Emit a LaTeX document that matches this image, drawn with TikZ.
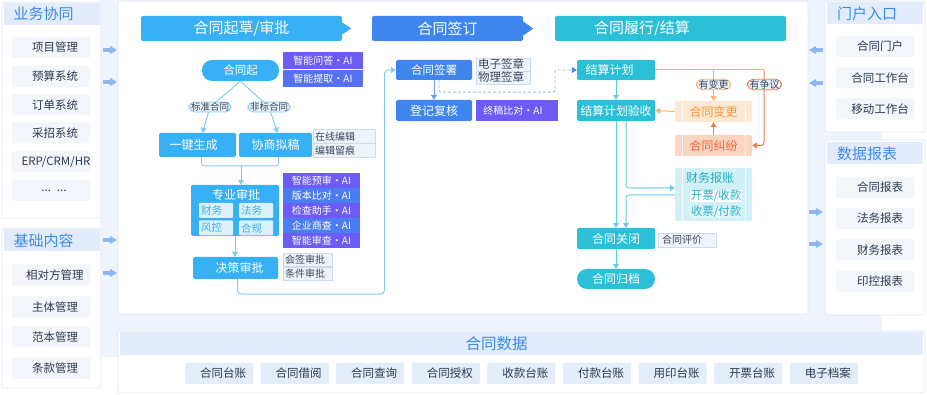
\documentclass[tikz,border=0pt]{standalone}
\usepackage{fontspec}
\setmainfont{Noto Sans CJK SC}
\usetikzlibrary{arrows.meta}
\definecolor{bgblue}{HTML}{EEF3FC}
\definecolor{pborder}{HTML}{DFE7F3}
\definecolor{hdrfill}{HTML}{E2ECFB}
\definecolor{hdrtext}{HTML}{3D8AF0}
\definecolor{itemfill}{HTML}{F3F6FA}
\definecolor{datafill}{HTML}{E4EDF9}
\definecolor{dtext}{HTML}{2C3A52}
\definecolor{tagtext}{HTML}{3A465C}
\definecolor{csky}{HTML}{38B0F5}
\definecolor{cblue}{HTML}{3E86EE}
\definecolor{cteal}{HTML}{2CC0D8}
\definecolor{aipurple}{HTML}{6C5CF5}
\definecolor{aiblue}{HTML}{4B7CF0}
\definecolor{aiindigo}{HTML}{5570F2}
\definecolor{tagfill}{HTML}{EEF4FB}
\definecolor{tagdraw}{HTML}{CFDCEE}
\definecolor{elabfill}{HTML}{EAF2FB}
\definecolor{subfill}{HTML}{DDF1FD}
\definecolor{linesky}{HTML}{80CCF7}
\definecolor{lineblue}{HTML}{6A9FF1}
\definecolor{lineteal}{HTML}{62D0E4}
\definecolor{orl}{HTML}{F9B56C}
\definecolor{ord}{HTML}{F27C47}
\definecolor{chgfill}{HTML}{FDE8D3}
\definecolor{chgtext}{HTML}{F2983A}
\definecolor{dspfill}{HTML}{FCD4C2}
\definecolor{dsptext}{HTML}{EE6633}
\definecolor{finfill}{HTML}{D2F0F7}
\definecolor{fintext}{HTML}{24AFC8}
\definecolor{sarrow}{HTML}{8EB6F4}
\definecolor{dashc}{HTML}{A3BCE6}
\newcommand\fsz[1]{\fontsize{#1}{#1}\selectfont}
\pgfdeclarelayer{bg}
\pgfdeclarelayer{wires}
\pgfsetlayers{bg,wires,main}
\tikzset{
 panel/.style={draw=pborder, fill=white, line width=0.7pt, rounded corners=1.5pt},
 hdr/.style={fill=hdrfill, text=hdrtext, font=\fsz{15}, minimum height=22pt, text width=76pt, align=left, inner xsep=10pt, inner ysep=0pt},
 item/.style={fill=itemfill, text=dtext, font=\fsz{11.5}, minimum width=78pt, minimum height=21pt, inner sep=0pt, rounded corners=1pt},
 ditem/.style={fill=datafill, text=dtext, font=\fsz{11.5}, minimum width=68pt, minimum height=21pt, inner sep=0pt, rounded corners=1pt},
 blk/.style={fill=#1, text=white, font=\fsz{11.5}, inner sep=0pt, rounded corners=1.5pt},
 pillbox/.style={blk=#1, rounded corners=10pt},
 ban/.style={fill=#1, text=white, font=\fsz{15}, inner sep=0pt, rounded corners=2pt, minimum height=25pt},
 ai/.style={fill=#1, text=white, font=\fsz{10}, inner sep=0pt, minimum width=79pt, minimum height=15pt},
 tag/.style={fill=tagfill, draw=tagdraw, line width=0.5pt, text=tagtext, font=\fsz{10}, inner sep=0pt, inner xsep=2pt, align=left},
 elab/.style={fill=elabfill, draw=#1, line width=0.8pt, text=tagtext, font=\fsz{9.5}, inner sep=0.6pt, inner xsep=2pt, rounded corners=5.5pt},
 sub/.style={fill=subfill, text=csky, font=\fsz{10.5}, minimum height=15pt, inner sep=0pt, inner xsep=2pt, text width=30pt, align=left, rounded corners=1pt},
 wire/.style={draw=#1, line width=1pt},
 tip/.style={-{Triangle[width=6pt,length=5pt]}},
 rarr/.pic={\fill[sarrow] (-7,-2) rectangle (0,2); \fill[sarrow] (0,-4) -- (7,0) -- (0,4) -- cycle;},
 larr/.pic={\fill[sarrow] (7,-2) rectangle (0,2); \fill[sarrow] (0,-4) -- (-7,0) -- (0,4) -- cycle;}
}
\begin{document}
\begin{tikzpicture}[x=1pt,y=-1pt]
\useasboundingbox (0,0) rectangle (927,395);
\begin{pgfonlayer}{bg}
\fill[white] (0,0) rectangle (927,395);
\fill[bgblue] (100,0) rectangle (882,357);
\draw[panel] (2,2) rectangle (101,218);
\draw[panel] (2,228) rectangle (101,388);
\draw[panel] (825,1) rectangle (925,132);
\draw[panel] (825,140) rectangle (925,315);
\draw[panel] (118,1) rectangle (808,314);
\draw[panel] (118,331) rectangle (925,393);
\end{pgfonlayer}

% ---------- left panels ----------
\node[hdr] (hA) at (51.5,14) {业务协同};
\node[item] (a1) at (51,47.5) {\hspace*{8pt}项目管理};
\node[item] (a2) at (51,76.5) {\hspace*{8pt}预算系统};
\node[item] (a3) at (51,105) {\hspace*{8pt}订单系统};
\node[item] (a4) at (51,133) {\hspace*{8pt}采招系统};
\node[item] (a5) at (51,162) {\hspace*{10pt}ERP/CRM/HR};
\node[item] (a6) at (51,190.5) {\hspace*{6pt}...\hspace{6pt}...};
\node[hdr] (hB) at (51.5,240.5) {基础内容};
\node[item] (b1) at (51,275) {\hspace*{8pt}相对方管理};
\node[item] (b2) at (51,307) {\hspace*{8pt}主体管理};
\node[item] (b3) at (51,337) {\hspace*{8pt}范本管理};
\node[item] (b4) at (51,368.5) {\hspace*{8pt}条款管理};
\pic at (110,50) {rarr};
\pic at (110,82) {rarr};
\pic at (110,240) {rarr};
\pic at (110,273) {rarr};

% ---------- right panels ----------
\node[hdr] (hC) at (875,13.5) {门户入口};
\node[item] (c1) at (875,46.5) {\hspace*{10pt}合同门户};
\node[item] (c2) at (875,78) {\hspace*{10pt}合同工作台};
\node[item] (c3) at (875,109) {\hspace*{10pt}移动工作台};
\node[hdr] (hD) at (875,153.5) {数据报表};
\node[item] (e1) at (875,187.5) {\hspace*{10pt}合同报表};
\node[item] (e2) at (875,218.5) {\hspace*{10pt}法务报表};
\node[item] (e3) at (875,250) {\hspace*{10pt}财务报表};
\node[item] (e4) at (875,281.5) {\hspace*{10pt}印控报表};
\pic at (816,50) {larr};
\pic at (816,83) {larr};
\pic at (816,212) {rarr};
\pic at (816,244) {rarr};

% ---------- bottom data panel ----------
\node[fill=hdrfill, minimum width=803pt, minimum height=23pt, inner sep=0pt] (hE) at (521.5,343.5) {};
\node[text=hdrtext, font=\fsz{15.5}, inner sep=0pt] (hEt) at (496.5,343.5) {合同数据};
\foreach \t [count=\i from 0] in {合同台账,合同借阅,合同查询,合同授权,收款台账,付款台账,用印台账,开票台账,电子档案}
  \node[ditem] (d\i) at ({219+75.6*\i},373.5) {\hspace*{8pt}\t};

% ---------- phase banners ----------
\node[ban=csky, minimum width=201pt] (p1) at (241.5,28.5) {合同起草/审批};
\fill[csky] ([yshift=6pt]p1.east) -- ([xshift=9pt]p1.east) -- ([yshift=-6pt]p1.east) -- cycle;
\node[ban=cblue, minimum width=151pt] (p2) at (447.5,28.5) {合同签订};
\fill[cblue] ([yshift=7pt]p2.east) -- ([xshift=10pt]p2.east) -- ([yshift=-7pt]p2.east) -- cycle;
\node[ban=cteal, minimum width=231pt] (p3) at (670.5,28.5) {合同履行/结算\hspace*{57pt}};

% ---------- phase 1 ----------
\node[pillbox=csky, minimum width=77pt, minimum height=21pt, font=\fsz{11.5}] (hq) at (240.5,70.5) {合同起};
\node[ai=aipurple, minimum width=80pt, minimum height=17pt] (q1) at (323,60.5) {智能问答·AI};
\node[ai=aiindigo, minimum width=80pt, minimum height=17pt] (q2) at (323,78.5) {智能提取·AI};
\node[elab=linesky] (l1) at (210,107) {标准合同};
\node[elab=linesky] (l2) at (269,107) {非标合同};
\node[blk=csky, minimum width=77pt, minimum height=24pt, font=\fsz{12}] (yj) at (197.5,145) {一键生成\hspace*{8pt}};
\node[blk=csky, minimum width=73pt, minimum height=24pt, font=\fsz{12}] (xs) at (275.5,145) {协商拟稿};
\node[tag, text width=58pt, minimum height=14pt] (t1) at (344,136.5) {在线编辑};
\node[tag, text width=58pt, minimum height=14pt] (t2) at (344,150.5) {编辑留痕};
\coordinate (m) at (241,166);
\node[blk=csky, minimum width=88pt, minimum height=51pt] (zy) at (235,210.5) {};
\node[text=white, font=\fsz{12}, inner sep=0pt] (zyt) at (236,194.5) {专业审批};
\node[sub] (s1) at (216,210.5) {财务};
\node[sub] (s2) at (256,210.5) {法务};
\node[sub] (s3) at (216,228) {风控};
\node[sub] (s4) at (256,228) {合规};
\node[ai=aipurple, minimum width=77pt] (r1) at (321.5,180.5) {智能预审·AI};
\node[ai=aiblue, minimum width=77pt] (r2) at (321.5,195.5) {版本比对·AI};
\node[ai=aipurple, minimum width=77pt] (r3) at (321.5,210.5) {检查助手·AI};
\node[ai=aiblue, minimum width=77pt] (r4) at (321.5,225.5) {企业商查·AI};
\node[ai=aipurple, minimum width=77pt] (r5) at (321.5,240.5) {智能审查·AI};
\node[blk=csky, minimum width=85pt, minimum height=22pt, font=\fsz{12}] (jc) at (235.5,268) {\hspace*{8pt}决策审批};
\node[tag, text width=45pt, minimum height=13pt] (t3) at (307.5,260) {会签审批};
\node[tag, text width=45pt, minimum height=13pt] (t4) at (307.5,273.5) {条件审批};

% ---------- phase 2 ----------
\node[blk=cblue, minimum width=76pt, minimum height=20pt] (qs) at (434,70) {合同签署};
\node[tag, font=\fsz{11.5}, text width=50pt, minimum height=13pt] (t5) at (503,64.5) {电子签章};
\node[tag, font=\fsz{11.5}, text width=50pt, minimum height=13pt] (t6) at (503,77.5) {物理签章};
\node[blk=cblue, minimum width=76pt, minimum height=21pt, font=\fsz{12}] (dj) at (434,110.5) {登记复核};
\node[ai=aipurple, minimum width=82pt, minimum height=21pt] (q3) at (517,110.5) {终稿比对·AI\hspace*{8pt}};

% ---------- phase 3 ----------
\node[blk=cteal, minimum width=78pt, minimum height=20pt, font=\fsz{12}] (jh) at (616,70) {结算计划\hspace*{13pt}};
\node[blk=cteal, minimum width=78pt, minimum height=21pt, font=\fsz{11.8}] (jys) at (616,110.5) {结算计划验收};
\node[blk=chgfill, text=chgtext, minimum width=77pt, minimum height=21pt, font=\fsz{12}] (bg) at (713.5,111.5) {合同变更};
\node[blk=dspfill, text=dsptext, minimum width=77pt, minimum height=21pt, font=\fsz{12}] (jf) at (713.5,145.5) {合同纠纷};
\node[blk=finfill, minimum width=77pt, minimum height=53pt] (cw) at (713.5,194.5) {};
\foreach \n in {bg,jf,cw}{
  \draw[white, line width=0.8pt, opacity=0.8] ([xshift=8pt]\n.north west) -- ([xshift=8pt]\n.south west);
  \draw[white, line width=0.8pt, opacity=0.8] ([xshift=-7pt]\n.north east) -- ([xshift=-7pt]\n.south east);
}
\node[text=fintext, font=\fsz{12}, inner sep=0pt] (cwt) at (710,178) {财务报账};
\node[fill=white, text=fintext, font=\fsz{11.5}, inner sep=0.5pt] (cw1) at (716,196) {开票/收款};
\node[fill=finfill!60!white, text=fintext, font=\fsz{11.5}, inner sep=0.5pt] (cw2) at (716,212) {收票/付款};
\node[elab=orl, font=\fsz{10}] (lb1) at (713.5,84.5) {有变更};
\node[elab=ord, font=\fsz{10}] (lb2) at (764.5,84.5) {有争议};
\node[blk=cteal, minimum width=78pt, minimum height=21pt, font=\fsz{12}] (gb) at (616,238.5) {合同关闭};
\node[tag, text width=50pt, inner xsep=4pt, minimum height=14pt] (pj) at (687,240) {合同评价};
\node[pillbox=cteal, minimum width=78pt, minimum height=20pt, font=\fsz{12}] (gd) at (616,279) {合同归档};
\coordinate (or1) at (764,70);

% ---------- connectors ----------
\begin{pgfonlayer}{wires}
\draw[wire=linesky, tip] (hq.south) -- (l1.center) -- ([xshift=5pt]yj.north);
\draw[wire=linesky, tip] (hq.south) -- (l2.center) -- ([xshift=2pt]xs.north);
\draw[wire=linesky, rounded corners=3pt] ([xshift=4pt]yj.south) |- (m) -| ([xshift=3pt]xs.south);
\draw[wire=linesky, tip] (m) -- (m |- zy.north);
\draw[wire=linesky, tip] (zy.south) -- (zy.south |- jc.north);
\draw[wire=linesky, tip, rounded corners=4pt] ([xshift=2pt]jc.south) -- ++(0,15) -- ++(147,0) |- (qs.west);
\draw[wire=lineblue, tip] (qs.south) -- (dj.north);
\draw[draw=dashc, line width=0.9pt, dash pattern=on 3pt off 2pt, rounded corners=2pt,
      -{Triangle[width=6pt,length=5pt,color=cblue]}]
      ([xshift=5pt]qs.south) -- ++(0,12) -- ++(116,0) |- (jh.west);
\draw[wire=lineteal, tip] (jh.south) -- (jys.north);
\draw[wire=lineteal, tip] (jys.south) -- (gb.north);
\draw[wire=lineteal, tip, rounded corners=3pt] ([xshift=10pt]jys.south) |- ([yshift=6.5pt]cw.west);
\draw[wire=lineteal, tip, rounded corners=3pt] ([yshift=-0.5pt]cw.west) -| ([xshift=10pt]gb.north);
\draw[wire=lineteal, tip] (gb.south) -- (gd.north);
\draw[wire=orl] (jh.east) -- (or1);
\draw[wire=orl, tip] (lb1 |- jh.east) -- (bg.north);
\draw[wire=ord, tip, rounded corners=3pt] (or1) |- (jf.east);
\draw[wire=ord, tip] (jf.north) -- (bg.south);
\draw[wire=orl, tip] (bg.west) -- (jys.east);
\end{pgfonlayer}
\end{tikzpicture}
\end{document}
